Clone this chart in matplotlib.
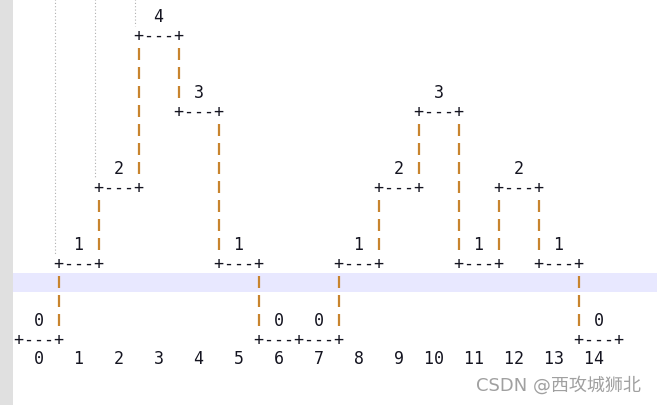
import matplotlib
matplotlib.use("Agg")
import matplotlib.pyplot as plt

# histogram drawn as ascii art in an editor window
values = [0, 1, 2, 4, 3, 1, 0, 0, 1, 2, 3, 1, 2, 1, 0]
bins = list(range(len(values)))
guide_cols = [4, 8, 12]     # editor indent guides
current_line = 14           # highlighted editor line
watermark = "CSDN @西攻城狮北"

W, H = 657, 406
fig = plt.figure(figsize=(W / 100, H / 100), dpi=100)
ax = fig.add_axes([0, 0, 1, 1])
ax.axis("off")

# one unit = one character cell (10px wide, 19px tall)
cw, lh, x0, y0 = 10.0, 19.0, 19.0, 17.0
ax.set_xlim(-x0 / cw, (W - x0) / cw)
ax.set_ylim((H - y0) / lh, -y0 / lh)

top = max(values)
base = 4 * top + 1  # line of the zero level
ncols = 4 * len(values) + 1


def row(v):
    return base - 4 * v


# character grid of the ascii drawing
grid = [[" "] * ncols for _ in range(base + 2)]
pipes = []
for i, v in zip(bins, values):
    r = row(v)
    c = 4 * i
    grid[r][c] = grid[r][c + 4] = "+"
    for k in range(1, 4):
        grid[r][c + k] = "-"
    grid[r - 1][c + 2] = str(v)
    s = str(i)
    for j, ch in enumerate(reversed(s)):
        grid[base + 1][c + 2 - j] = ch
    if i + 1 < len(values):
        r2 = row(values[i + 1])
        for k in range(min(r, r2) + 1, max(r, r2)):
            pipes.append((c + 4, k))

ax.axvspan(-x0 / cw, (13 - x0) / cw, color="#e0e0e0", lw=0)
ax.axhspan(current_line - 0.47, current_line + 0.53, xmin=13 / W, xmax=1,
           color="#e8e8ff", lw=0)

ink = "#141420"
pipe = "#c8842e"

for c in guide_cols:
    i = c // 4
    end = min(row(values[i - 1]), row(values[i])) - 0.5
    ax.plot([c - 0.4, c - 0.4], [-1, end], ls=(0, (1, 2)), color="#b0b0b0", lw=0.8)

for k, chars in enumerate(grid):
    line = "".join(chars).rstrip()
    if line:
        ax.text(-0.5, k, line, ha="left", va="center", color=ink,
                family="DejaVu Sans Mono", fontsize=12)

for c, k in pipes:
    ax.plot([c, c], [k - 0.3, k + 0.3], color=pipe, lw=1.6, solid_capstyle="butt")

ax.text(0.975, 0.05, watermark, transform=ax.transAxes, ha="right", va="center",
        fontsize=13, color="#a0a0a0", family=["DejaVu Sans", "Noto Sans CJK SC"])

fig.savefig("out.png", dpi=100)
